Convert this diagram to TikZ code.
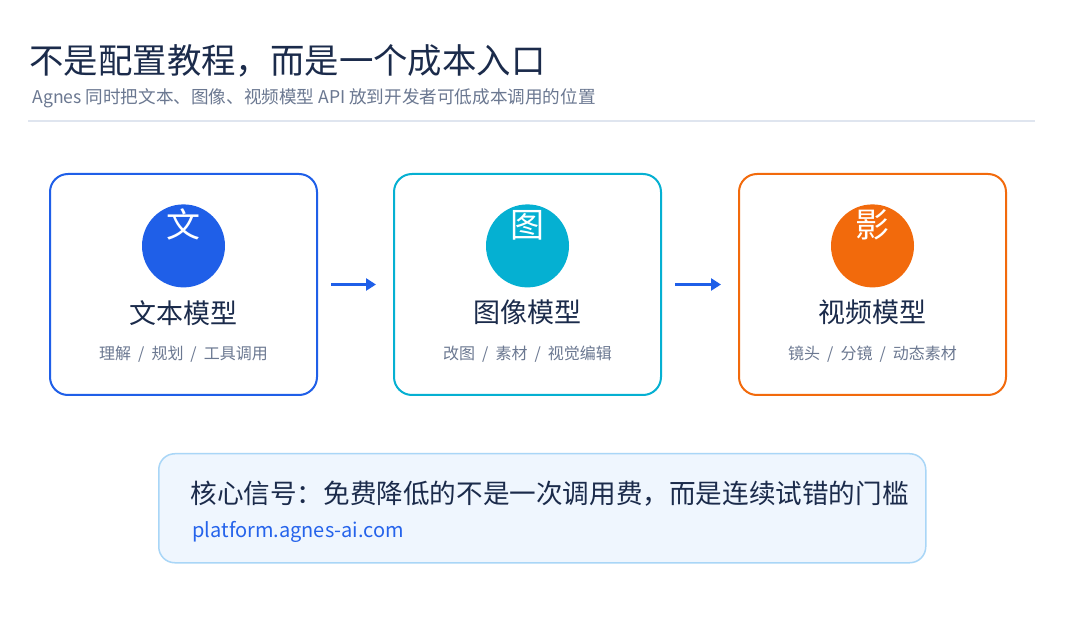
\documentclass[tikz,border=0pt]{standalone}
\usepackage{fontspec}
\setmainfont{Noto Sans CJK SC}
\usepackage{xcolor}
\usepackage{tikz}
\usetikzlibrary{arrows.meta, positioning}

\definecolor{titlenavy}{HTML}{1B2B4B}
\definecolor{subgray}{HTML}{6B7891}
\definecolor{rulegray}{HTML}{DFE5EF}
\definecolor{textblue}{HTML}{1F5FE8}
\definecolor{imagecyan}{HTML}{05B0D2}
\definecolor{videoorange}{HTML}{F26A0C}
\definecolor{signalfill}{HTML}{EFF6FE}
\definecolor{signaldraw}{HTML}{A9D6F7}
\definecolor{urlblue}{HTML}{2563EB}

\newcommand{\tagsep}{\hspace{3.5pt}/\hspace{3.5pt}}

\tikzstyle{modelbox} = [rectangle, minimum width=133.5pt, minimum height=110.5pt, line width=1pt, outer sep=0pt, rounded corners=9pt, fill=white]
\tikzstyle{dot} = [circle, minimum size=41.5pt, inner sep=0pt]
\tikzstyle{glyph} = [text=white, font=\fontsize{17pt}{17pt}\selectfont, inner sep=0pt]
\tikzstyle{modelname} = [text=titlenavy, font=\fontsize{13.5pt}{14pt}\selectfont, inner sep=0pt]
\tikzstyle{modeltags} = [text=subgray, font=\fontsize{8pt}{9pt}\selectfont, inner sep=0pt]
\tikzstyle{signalbox} = [rectangle, minimum width=383.5pt, minimum height=54.5pt, rounded corners=8pt, fill=signalfill, draw=signaldraw, line width=0.75pt]
\tikzstyle{arrow} = [line width=1.6pt, draw=textblue, -{Triangle[length=5pt,width=6pt]}]

\begin{document}
\begin{tikzpicture}[x=0.5pt, y=-0.5pt]
        \fill [white] (0,0) rectangle (1080,624);
        \useasboundingbox (0,0) rectangle (1080,624);

        \node (title) [anchor=west, inner sep=0pt, text=titlenavy, font=\fontsize{17.2pt}{18pt}\selectfont] at (29,61) {不是配置教程，而是一个成本入口};
        \node (subtitle) [anchor=west, inner sep=0pt, text=subgray, font=\fontsize{8.8pt}{10pt}\selectfont] at (32,98) {Agnes 同时把文本、图像、视频模型 API 放到开发者可低成本调用的位置};
        \draw [rulegray, line width=1pt] (28,121) -- (1035,121);

        \node (textbox) [modelbox, draw=textblue, anchor=north west] at (50,174) {};
        \node (imagebox) [modelbox, draw=imagecyan, right=38.5pt of textbox] {};
        \node (videobox) [modelbox, draw=videoorange, right=39pt of imagebox] {};

        \node (textdot) [dot, fill=textblue, below=15pt of textbox.north] {};
        \node (imagedot) [dot, fill=imagecyan, below=15pt of imagebox.north] {};
        \node (videodot) [dot, fill=videoorange, below=15pt of videobox.north] {};

        \node (textglyph) [glyph] at ([yshift=10.5pt]textdot.center) {文};
        \node (imageglyph) [glyph] at ([yshift=10.5pt]imagedot.center) {图};
        \node (videoglyph) [glyph] at ([yshift=10.5pt]videodot.center) {影};

        \node (textname) [modelname, below=6pt of textdot] {文本模型};
        \node (imagename) [modelname, below=6pt of imagedot] {图像模型};
        \node (videoname) [modelname, below=6pt of videodot] {视频模型};

        \node (texttags) [modeltags, below=10pt of textname] {理解\tagsep 规划\tagsep 工具调用};
        \node (imagetags) [modeltags, below=10pt of imagename] {改图\tagsep 素材\tagsep 视觉编辑};
        \node (videotags) [modeltags, below=10pt of videoname] {镜头\tagsep 分镜\tagsep 动态素材};

        \draw [arrow, shorten <=7pt, shorten >=9pt] (textbox) -- (imagebox);
        \draw [arrow, shorten <=7pt, shorten >=9pt] (imagebox) -- (videobox);

        \node (signal) [signalbox, anchor=north west] at (158,453) {};
        \node (signaltext) [anchor=west, inner sep=0pt, text=titlenavy, font=\fontsize{13.3pt}{14pt}\selectfont] at (190,494) {核心信号：免费降低的不是一次调用费，而是连续试错的门槛};
        \node (signalurl) [anchor=west, inner sep=0pt, text=urlblue, font=\fontsize{10pt}{11pt}\selectfont] at (192,532) {platform.agnes-ai.com};
    \end{tikzpicture}
\end{document}
